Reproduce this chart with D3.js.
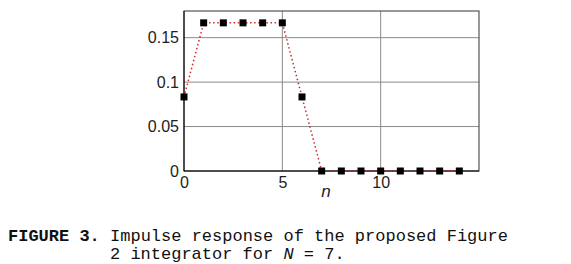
<!DOCTYPE html>
<html>
<head>
<meta charset="utf-8">
<script src="https://cdn.jsdelivr.net/npm/d3@7"></script>
<style>
  body { margin: 0; background: #fff; }
  svg { display: block; }
</style>
</head>
<body>
<div class="chart"></div>
<script>
// Chart data
const n = [0, 1, 2, 3, 4, 5, 6, 7, 8, 9, 10, 11, 12, 13, 14];
const h = [1/12, 1/6, 1/6, 1/6, 1/6, 1/6, 1/12, 0, 0, 0, 0, 0, 0, 0, 0];
const xTicks = [0, 5, 10];
const yTicks = [0, 0.05, 0.1, 0.15];
const yTickLabels = ['0', '0.05', '0.1', '0.15'];

const width = 571;
const height = 264;
const plot = { left: 184, right: 479, top: 11, bottom: 171 };

const svg = d3.select('.chart')
  .append('svg')
  .attr('width', width)
  .attr('height', height);

const x = d3.scaleLinear().domain([0, 15]).range([plot.left, plot.right]);
const y = d3.scaleLinear().domain([0, 0.18]).range([plot.bottom, plot.top]);

// grid
svg.append('g')
  .selectAll('line')
  .data(xTicks.slice(1))
  .enter().append('line')
  .attr('x1', d => x(d)).attr('x2', d => x(d))
  .attr('y1', plot.top).attr('y2', plot.bottom)
  .attr('stroke', '#8a8a8a').attr('stroke-width', 1);

svg.append('g')
  .selectAll('line')
  .data(yTicks.slice(1))
  .enter().append('line')
  .attr('x1', plot.left).attr('x2', plot.right)
  .attr('y1', d => y(d)).attr('y2', d => y(d))
  .attr('stroke', '#8a8a8a').attr('stroke-width', 1);

// frame
svg.append('rect')
  .attr('x', plot.left).attr('y', plot.top)
  .attr('width', plot.right - plot.left)
  .attr('height', plot.bottom - plot.top)
  .attr('fill', 'none')
  .attr('stroke', '#333').attr('stroke-width', 1);

// axes (labels only)
const xAxis = d3.axisBottom(x).tickValues(xTicks).tickSize(0).tickPadding(6);
const yAxis = d3.axisLeft(y).tickValues(yTicks).tickSize(0).tickPadding(5)
  .tickFormat((d, i) => yTickLabels[i]);

svg.append('g')
  .attr('transform', `translate(0,${plot.bottom})`)
  .call(xAxis)
  .call(g => g.select('.domain').remove())
  .selectAll('text')
  .attr('font-family', 'Liberation Sans, Arial, sans-serif')
  .attr('font-size', 16)
  .attr('fill', '#222');

svg.append('g')
  .attr('transform', `translate(${plot.left},0)`)
  .call(yAxis)
  .call(g => g.select('.domain').remove())
  .selectAll('text')
  .attr('font-family', 'Liberation Sans, Arial, sans-serif')
  .attr('font-size', 16)
  .attr('fill', '#222');

svg.append('line')
  .attr('x1', plot.left).attr('x2', plot.right)
  .attr('y1', plot.bottom).attr('y2', plot.bottom)
  .attr('stroke', '#000');
svg.append('line')
  .attr('x1', plot.left).attr('x2', plot.left)
  .attr('y1', plot.top).attr('y2', plot.bottom)
  .attr('stroke', '#000');

// x label
svg.append('text')
  .attr('x', 326).attr('y', 197)
  .attr('text-anchor', 'middle')
  .attr('font-family', 'Liberation Sans, Arial, sans-serif')
  .attr('font-style', 'italic')
  .attr('font-size', 17)
  .attr('fill', '#222')
  .text('n');

// dotted line
const data = n.map((d, i) => ({ n: d, v: h[i] }));
svg.append('path')
  .datum(data)
  .attr('fill', 'none')
  .attr('stroke', '#cc2a2a')
  .attr('stroke-width', 1.5)
  .attr('stroke-dasharray', '1.5,2.6')
  .attr('d', d3.line().x(d => x(d.n)).y(d => y(d.v)));

// markers
const s = 7;
svg.append('g')
  .selectAll('rect')
  .data(data)
  .enter().append('rect')
  .attr('x', d => x(d.n) - s / 2)
  .attr('y', d => y(d.v) - s / 2)
  .attr('width', s).attr('height', s)
  .attr('fill', '#000');

// caption
const cap = svg.append('g')
  .attr('font-family', 'Liberation Mono, Courier New, monospace')
  .attr('font-size', 17)
  .attr('fill', '#111');

const l1 = cap.append('text').attr('x', 8).attr('y', 241);
l1.append('tspan').attr('font-weight', 'bold').text('FIGURE 3.');
l1.append('tspan').attr('xml:space', 'preserve').text(' Impulse response of the proposed Figure');

const l2 = cap.append('text').attr('x', 8 + 10 * 10.2).attr('y', 258.5);
l2.append('tspan').text('2 integrator for ');
l2.append('tspan').attr('font-style', 'italic').text('N');
l2.append('tspan').text(' = 7.');
</script>
</body>
</html>
